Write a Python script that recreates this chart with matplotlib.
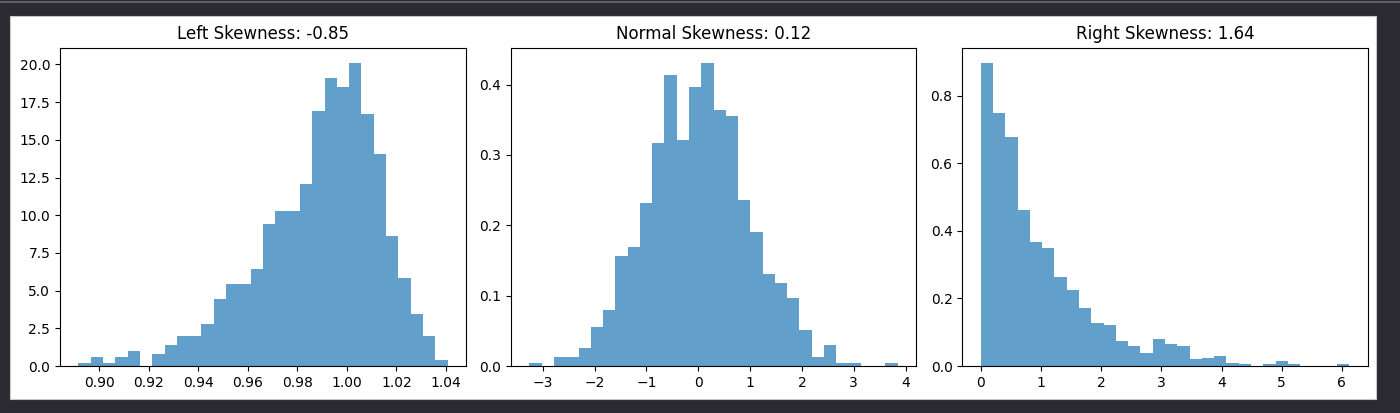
import numpy as np
import matplotlib
matplotlib.use("Agg")
import matplotlib.pyplot as plt
from matplotlib.patches import Rectangle
from matplotlib.lines import Line2D

# ---- data (counts per bin, 1000 samples each, 30 bins) ----
titles = ["Left Skewness: -0.85", "Normal Skewness: 0.12", "Right Skewness: 1.64"]

left_range = (0.8915, 1.0407)
left_counts = [1, 3, 1, 3, 5, 0, 4, 7, 10, 10, 14, 22, 27, 27, 32,
               47, 51, 51, 60, 84, 95, 92, 100, 83, 70, 43, 29, 17, 10, 2]

normal_range = (-3.256, 3.846)
normal_counts = [1, 0, 3, 3, 6, 13, 19, 37, 40, 55, 75, 98, 76, 94, 102,
                 86, 84, 56, 45, 31, 28, 23, 12, 3, 7, 1, 1, 0, 0, 1]

right_range = (0.001, 6.122)
right_counts = [183, 153, 138, 94, 75, 71, 54, 46, 35, 26, 25, 15, 12, 8, 16,
                13, 12, 4, 5, 6, 2, 1, 0, 1, 3, 1, 0, 0, 0, 1]

ranges = [left_range, normal_range, right_range]
counts = [left_counts, normal_counts, right_counts]

# ---- style ----
plt.rcParams.update({
    "font.family": ["DejaVu Sans"],
    "font.size": 10,
    "axes.titlesize": 12,
})

W, H = 1400, 413
fig = plt.figure(figsize=(W / 100, H / 100), dpi=100, facecolor="#2b2a30")

# white figure canvas inside the dark screenshot frame
bg = Rectangle((10 / W, (H - 399) / H), 1366 / W, 383 / H,
               transform=fig.transFigure, facecolor="white",
               edgecolor="#c8c8c8", linewidth=0.8, zorder=-10)
fig.patches.append(bg)
fig.lines.append(Line2D([0, 1], [1 - 1.5 / H, 1 - 1.5 / H], transform=fig.transFigure,
                        color="#6a6a6e", linewidth=1.2, zorder=-10))

axes_px = [(60, 466), (511, 916), (962.3, 1367.7)]
top_px, bot_px = 47.7, 366

for (x0, x1), rng, cnt, title in zip(axes_px, ranges, counts, titles):
    ax = fig.add_axes([x0 / W, (H - bot_px) / H, (x1 - x0) / W, (bot_px - top_px) / H])
    edges = np.linspace(rng[0], rng[1], len(cnt) + 1)
    centers = (edges[:-1] + edges[1:]) / 2
    ax.hist(centers, bins=edges, weights=cnt, density=True,
            color="#1f77b4", alpha=0.7)
    ax.set_title(title)

fig.savefig("out.png", dpi=100, facecolor=fig.get_facecolor())
